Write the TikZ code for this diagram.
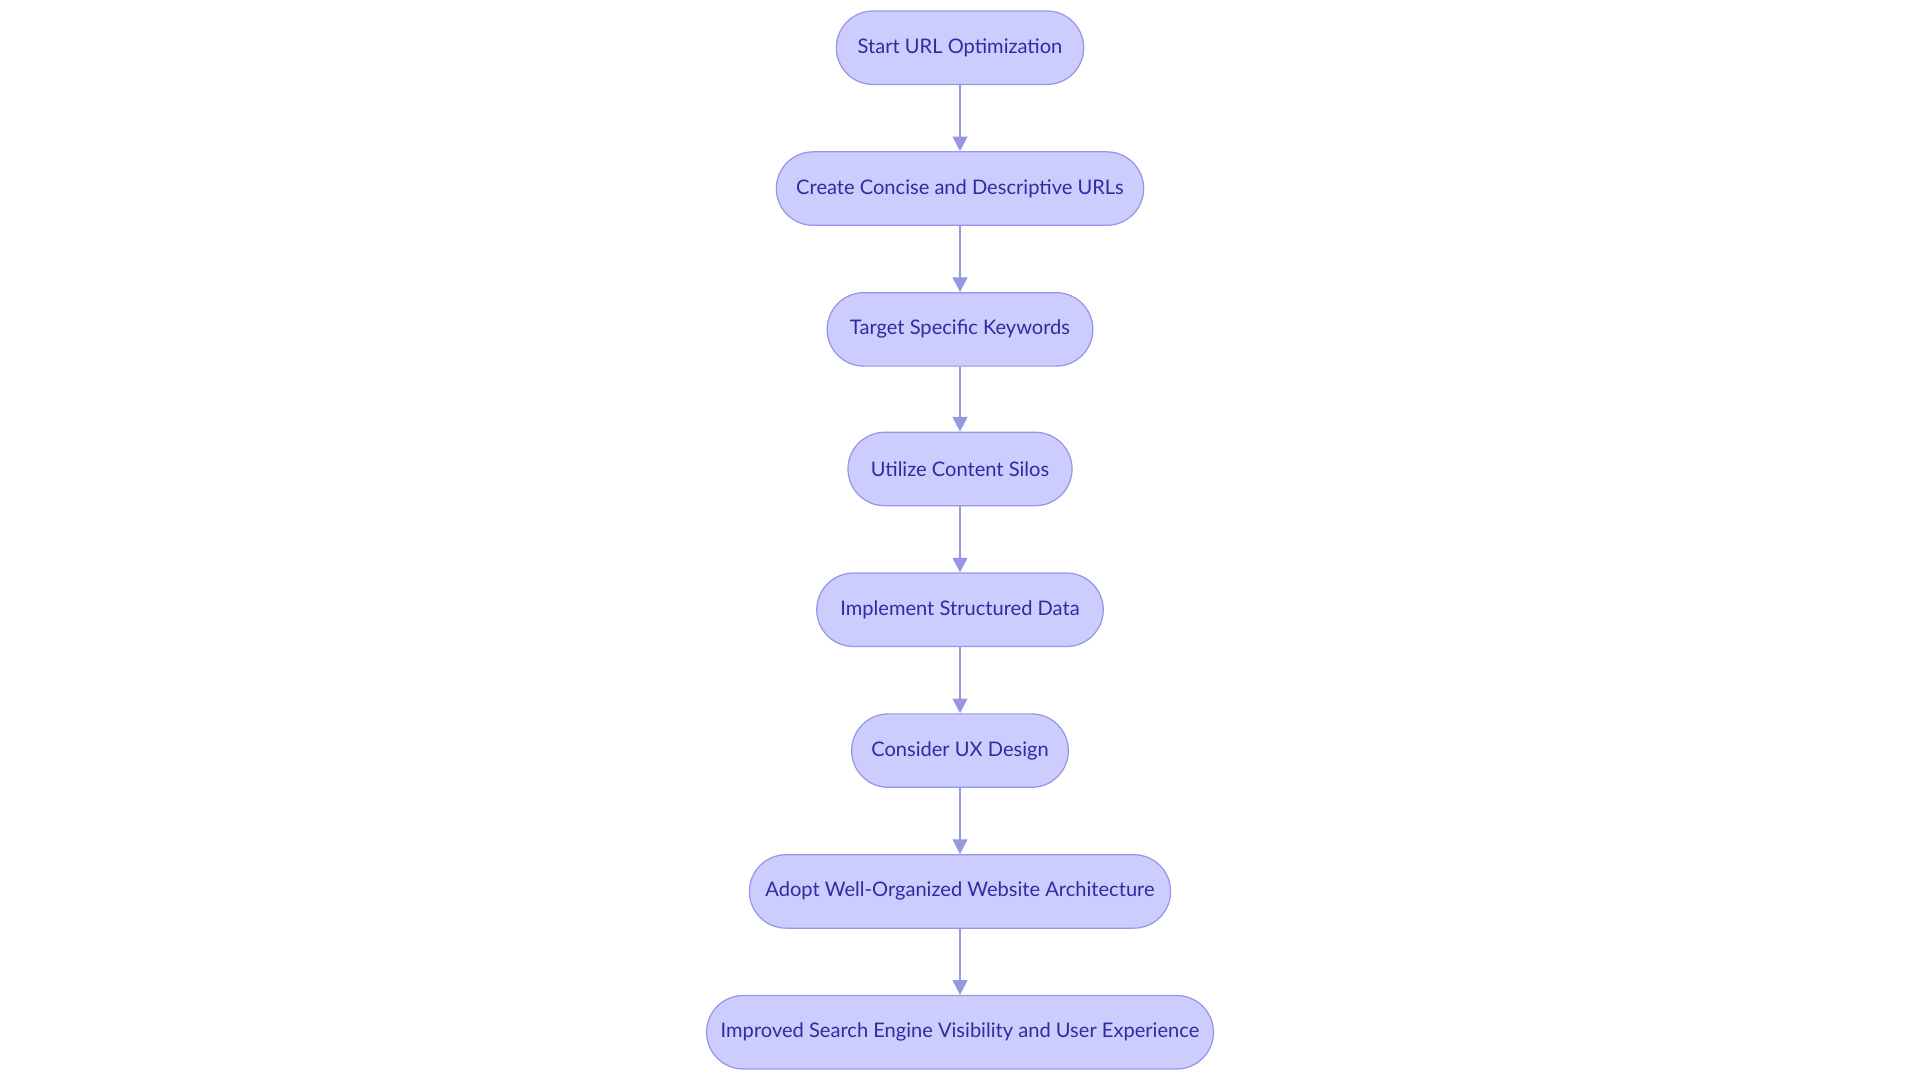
\documentclass[tikz,border=0pt]{standalone}
\usepackage{fontspec}
\setmainfont{Lato}
\usetikzlibrary{arrows.meta}
\definecolor{nfill}{RGB}{204,204,255}
\definecolor{nline}{RGB}{150,150,230}
\definecolor{ntext}{RGB}{45,45,160}
\definecolor{aline}{RGB}{150,150,225}
\tikzset{
  stepbox/.style={draw=nline, fill=nfill, text=ntext, rounded corners=15pt, line width=0.5pt,
    minimum height=30pt, inner sep=0pt, font=\fontsize{8.2pt}{10pt}\selectfont},
  conn/.style={draw=aline, line width=0.8pt, -{Triangle[length=6pt,width=6pt]}}
}
\begin{document}
\begin{tikzpicture}[x=0.5pt,y=-0.5pt]
\useasboundingbox (0,0) rectangle (1568,882);
\node[stepbox, minimum width=101pt] (n1) at (784,39) {Start URL Optimization};
\node[stepbox, minimum width=150pt] (n2) at (784,154) {Create Concise and Descriptive URLs};
\node[stepbox, minimum width=108.5pt] (n3) at (784,269) {Target Specific Keywords};
\node[stepbox, minimum width=91.5pt] (n4) at (784,383) {Utilize Content Silos};
\node[stepbox, minimum width=117pt] (n5) at (784,498) {Implement Structured Data};
\node[stepbox, minimum width=88.5pt] (n6) at (784,613) {Consider UX Design};
\node[stepbox, minimum width=172pt] (n7) at (784,728) {Adopt Well-Organized Website Architecture};
\node[stepbox, minimum width=207pt] (n8) at (784,843) {Improved Search Engine Visibility and User Experience};
\foreach \a/\b in {n1/n2,n2/n3,n3/n4,n4/n5,n5/n6,n6/n7,n7/n8}
  \draw[conn] (\a) -- (\b);
\end{tikzpicture}
\end{document}
